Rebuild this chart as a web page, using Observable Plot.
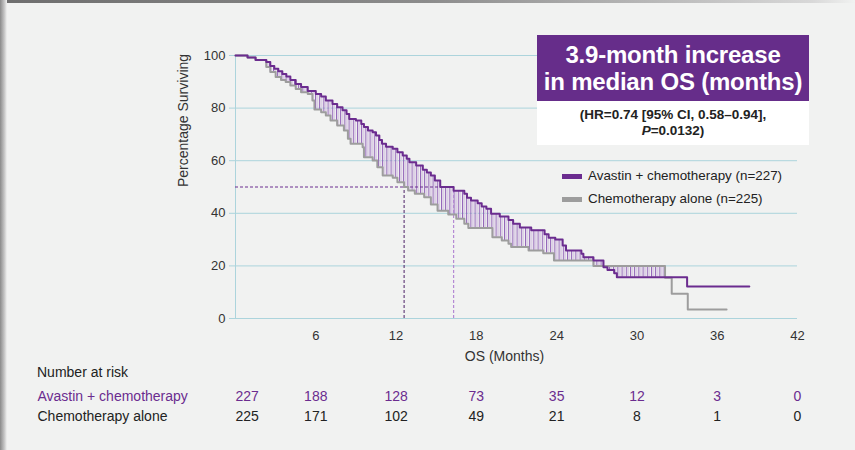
<!DOCTYPE html>
<html>
<head>
<meta charset="utf-8">
<script src="https://cdn.jsdelivr.net/npm/d3@7"></script>
<script src="https://cdn.jsdelivr.net/npm/@observablehq/plot@0.6"></script>
<style>
  body { margin: 0; background: #ffffff; }
  #wrap { position: relative; width: 855px; height: 450px; background: #f1f2f1; overflow: hidden;
          font-family: "Liberation Sans", Arial, Helvetica, sans-serif; color: #222; }
  #wrap svg { display: block; }
  .btop { position: absolute; left: 0; top: 0; width: 855px; height: 3px;
          background: linear-gradient(to right, #6e6e6e, #8c8c8c 50%, #d8d8d8 95%, #f1f2f1); }
  .bleft { position: absolute; left: 0; top: 0; width: 7px; height: 450px;
          background: linear-gradient(to right, #8a8a8a, #c4c4c4 60%, #f1f2f1); }
  .box { position: absolute; left: 537px; top: 35px; width: 272px; }
  .box .head { background: #662d8a; color: #fff; font-weight: bold; font-size: 24px; line-height: 27px;
               text-align: center; height: 66px; box-sizing: border-box; padding-top: 6px; letter-spacing: -0.2px; }
  .box .sub { background: #fff; color: #222; font-weight: bold; font-size: 13.5px; line-height: 16px;
              text-align: center; height: 44px; box-sizing: border-box; padding-top: 6px; }
  .legend { position: absolute; left: 562px; font-size: 13.4px; color: #222; }
  .legend .sw { display: inline-block; width: 20px; height: 5px; vertical-align: middle; margin-right: 6px; }
  .nar { position: absolute; left: 37px; top: 364px; font-size: 14px; color: #222; }
</style>
</head>
<body>
<div id="wrap">
  <div id="main"></div>
  <div id="table"></div>
  <div class="box">
    <div class="head">3.9-month increase<br>in median OS (months)</div>
    <div class="sub">(HR=0.74 [95% CI, 0.58–0.94],<br><i>P</i>=0.0132)</div>
  </div>
  <div class="legend" style="top:168px"><span class="sw" style="background:#6b2c8f"></span>Avastin + chemotherapy (n=227)</div>
  <div class="legend" style="top:191px"><span class="sw" style="background:#9d9d9d"></span>Chemotherapy alone (n=225)</div>
  <div class="nar">Number at risk</div>
  <div class="btop"></div>
  <div class="bleft"></div>
</div>
<script>
// ---------------- data ----------------
const xTicks = [6, 12, 18, 24, 30, 36, 42];
const yTicks = [0, 20, 40, 60, 80, 100];

const avastinMonths = [0, 0.9, 1.5, 2.3, 2.6, 2.9, 3.2, 3.5, 3.8, 4.1, 4.5, 4.9, 5.4, 6.0, 6.4, 6.75, 7.25, 7.6, 8.0, 8.3, 8.5, 9.0, 9.4, 9.6, 9.9, 10.25, 10.5, 10.75, 10.95, 11.25, 11.75, 12.1, 12.5, 12.8, 13.0, 13.5, 14.0, 14.3, 14.6, 14.9, 15.3, 16.3, 17.1, 17.3, 17.6, 18.1, 18.4, 18.75, 19.1, 19.75, 20.4, 20.75, 21.25, 22.1, 23.1, 23.4, 23.9, 24.45, 24.7, 25.85, 26.0, 26.75, 27.5, 27.8, 28.3, 28.5, 33.75, 38.4];
const avastinSurvival = [100, 99.2, 98.3, 97.5, 96, 95, 94, 93, 92, 90.7, 89.2, 88, 86.5, 85.4, 84.4, 82.9, 81.6, 80.3, 79.2, 77.8, 75.9, 75.3, 74, 72.8, 71.5, 70.8, 69.6, 67.9, 66.4, 65.3, 64.5, 63.2, 62, 60.7, 59.4, 58.2, 56.6, 55.5, 54.4, 52.5, 50.0, 48.6, 47.4, 45.9, 44.9, 43.8, 42.6, 41.7, 39.8, 38.8, 37.5, 36.0, 34.6, 33.6, 32.0, 30.7, 30.0, 27.8, 25.9, 24.6, 23.3, 22.1, 19.5, 18.4, 17.2, 15.7, 12.2, 12.2];

const chemoMonths = [0, 0.9, 1.5, 2.3, 2.6, 3.0, 3.4, 3.75, 4.1, 4.5, 4.9, 5.4, 5.75, 5.9, 6.4, 6.75, 7.1, 7.6, 8.1, 8.4, 8.6, 9.5, 9.6, 10.25, 10.6, 11.0, 11.75, 12.1, 12.6, 12.9, 13.4, 14.1, 14.6, 15.1, 15.9, 16.5, 17.1, 17.4, 19.2, 19.9, 20.4, 20.6, 21.9, 23.0, 23.8, 26.75, 32.1, 32.6, 33.8, 36.7];
const chemoSurvival = [100, 99.2, 98.3, 95.6, 93.7, 91.8, 90.7, 89.9, 88.6, 87.3, 86.0, 85.4, 82.9, 79.5, 78.4, 77.2, 75.3, 73.4, 71.5, 68.3, 66.4, 65.1, 61.3, 60.1, 57.5, 54.4, 53.5, 51.8, 50.0, 48.7, 47.4, 46.1, 43.3, 41.0, 39.5, 37.9, 36.0, 34.4, 30.9, 29.7, 28.4, 27.2, 25.9, 24.8, 22.1, 20.0, 15.5, 9.4, 3.4, 3.4];

const medianChemo = 12.6;
const medianAvastin = 16.3;
const hatchEnd = 32.1;

const riskMonths = [0, 6, 12, 18, 24, 30, 36, 42];
const seriesNames = ["Avastin + chemotherapy", "Chemotherapy alone"];
const riskAvastin = [227, 188, 128, 73, 35, 12, 3, 0];
const riskChemo = [225, 171, 102, 49, 21, 8, 1, 0];

// ---------------- styles ----------------
const PURPLE = "#6b2c8f";
const GRAY = "#9d9d9d";
const GRID = "#acd4dc";
const INK = "#333333";

// ---------------- derived tables ----------------
const avastin = avastinMonths.map((t, i) => ({t, s: avastinSurvival[i]}));
const chemo = chemoMonths.map((t, i) => ({t, s: chemoSurvival[i]}));
function stepAt(ts, ss, t) {
  let v = ss[0];
  for (let i = 0; i < ts.length; i++) { if (ts[i] <= t) v = ss[i]; else break; }
  return v;
}
const gridT = Array.from(new Set([...avastinMonths, ...chemoMonths].filter(t => t < hatchEnd))).sort((a, b) => a - b);
gridT.push(hatchEnd);
const between = gridT.map(t => ({t, a: stepAt(avastinMonths, avastinSurvival, t), c: stepAt(chemoMonths, chemoSurvival, t)}));

const riskRows = [];
riskMonths.forEach((m, i) => {
  riskRows.push({m, row: 0, series: seriesNames[0], n: riskAvastin[i]});
  riskRows.push({m, row: 1, series: seriesNames[1], n: riskChemo[i]});
});
const rowLabels = seriesNames.map((name, row) => ({name, row}));

// ---------------- main plot ----------------
const main = Plot.plot({
  width: 855, height: 365,
  marginLeft: 235, marginRight: 58, marginTop: 55, marginBottom: 47,
  style: {background: "transparent", fontFamily: "'Liberation Sans', Arial, sans-serif", overflow: "visible"},
  x: {domain: [0, 42], label: null},
  y: {domain: [0, 100], label: null},
  marks: [
    Plot.gridY(yTicks, {stroke: GRID, strokeOpacity: 1, strokeWidth: 1}),
    Plot.ruleX([0], {y1: 0, y2: 100, stroke: GRID, strokeWidth: 1}),
    Plot.axisY({ticks: yTicks, tickSize: 6, tickPadding: 4, stroke: GRID, strokeOpacity: 1, fill: INK, fontSize: 13, label: null}),
    Plot.axisX({ticks: xTicks, tickSize: 0, tickPadding: 12, fill: INK, fontSize: 13, label: null}),
    Plot.text(["Percentage Surviving"], {text: d => d, frameAnchor: "left", rotate: -90, dx: -52, fontSize: 14, fill: INK}),
    Plot.text(["OS (Months)"], {text: d => d, frameAnchor: "bottom", dx: -12, dy: 42, fontSize: 14, fill: INK}),
    Plot.areaY(between, {x: "t", y1: "c", y2: "a", curve: "step-after", fill: "url(#hatch)"}),
    Plot.ruleY([50], {x1: 0, x2: medianAvastin, stroke: PURPLE, strokeWidth: 1, strokeDasharray: "3,2"}),
    Plot.ruleX([medianChemo], {y1: 0, y2: 50, stroke: "#4a1f66", strokeWidth: 1, strokeDasharray: "3,2"}),
    Plot.ruleX([medianAvastin], {y1: 0, y2: 50, stroke: "#b58ad4", strokeWidth: 1.2, strokeDasharray: "3,2"}),
    Plot.line(chemo, {x: "t", y: "s", curve: "step-after", stroke: GRAY, strokeWidth: 2}),
    Plot.line(avastin, {x: "t", y: "s", curve: "step-after", stroke: PURPLE, strokeWidth: 2})
  ]
});
d3.select(main).append("defs").html(
  `<pattern id="hatch" patternUnits="userSpaceOnUse" width="4.2" height="8">
     <rect x="0" y="0" width="1" height="8" fill="#8d5bb5"></rect>
     <rect x="1.8" y="0" width="1.4" height="8" fill="#d9cae4"></rect>
   </pattern>`);
document.getElementById("main").appendChild(main);

// ---------------- number at risk table ----------------
const table = Plot.plot({
  width: 855, height: 85,
  marginLeft: 235, marginRight: 58, marginTop: 0, marginBottom: 0,
  style: {background: "transparent", fontFamily: "'Liberation Sans', Arial, sans-serif", overflow: "visible"},
  x: {domain: [0, 42], axis: null},
  y: {domain: [0, 1], range: [31, 51], axis: null},
  marks: [
    Plot.text(rowLabels, {y: "row", text: "name", frameAnchor: "left", textAnchor: "start", dx: -198, fontSize: 14,
                          fill: d => d.row === 0 ? PURPLE : "#222222"}),
    Plot.text(riskRows.filter(d => d.m === 0), {x: "m", y: "row", text: d => String(d.n), textAnchor: "start", fontSize: 14,
                          fill: d => d.row === 0 ? PURPLE : "#222222"}),
    Plot.text(riskRows.filter(d => d.m !== 0), {x: "m", y: "row", text: d => String(d.n), fontSize: 14,
                          fill: d => d.row === 0 ? PURPLE : "#222222"})
  ]
});
document.getElementById("table").appendChild(table);
</script>
</body>
</html>
